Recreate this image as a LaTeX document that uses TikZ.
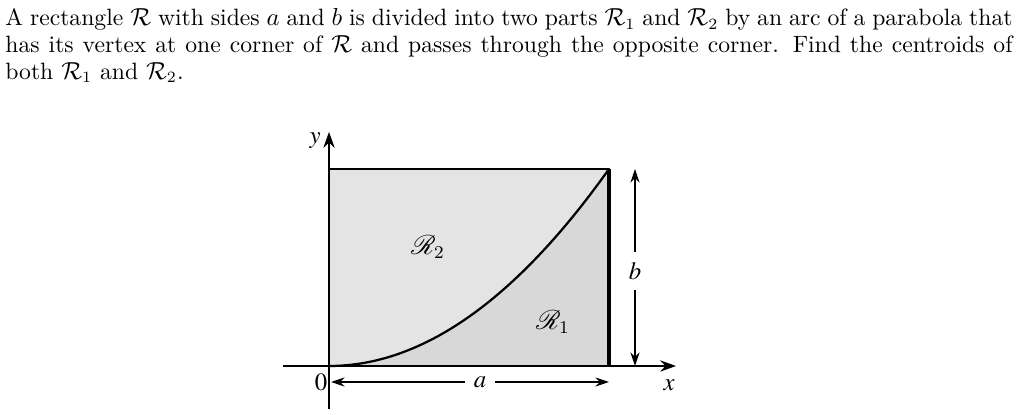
\documentclass[tikz,border=0pt]{standalone}
\usepackage{fontspec}
\usepackage{mathrsfs}
\newcommand{\timesit}{\usefont{OT1}{ptm}{m}{it}}
\newcommand{\timesrm}{\usefont{OT1}{ptm}{m}{n}}
\usetikzlibrary{arrows.meta}
\definecolor{regtwo}{HTML}{E4E4E4}
\definecolor{regone}{HTML}{D8D8D8}
\tikzset{
  px/.style={x=0.44444pt,y=-0.44444pt},
  axis/.style={line width=1pt,-{Stealth[length=7pt,width=5pt]}},
  dim/.style={line width=0.9pt,-{Stealth[length=6pt,width=4pt]}},
  lab/.style={font=\fontsize{11pt}{13pt}\timesit,inner sep=1pt},
  numlab/.style={font=\fontsize{11pt}{13pt}\timesrm,inner sep=1pt},
  reglab/.style={font=\fontsize{11.5pt}{13pt}\selectfont,inner sep=1pt},
}
\begin{document}
\begin{tikzpicture}[px]
\useasboundingbox (0,0) rectangle (1024,415);
% paragraph
\node[anchor=north west,inner sep=0pt,text width=447.6pt,align=justify,font=\fontsize{10.5pt}{11.9pt}\selectfont] (txt) at (5,8)
{A rectangle $\mathcal{R}$ with sides $a$ and $b$ is divided into two parts $\mathcal{R}_1$ and $\mathcal{R}_2$ by an arc of a parabola that\linebreak
has its vertex at one corner of $\mathcal{R}$ and passes through the opposite corner. Find the centroids of\linebreak
both $\mathcal{R}_1$ and $\mathcal{R}_2$.};
% key points
\coordinate (O) at (329,366);
\coordinate (TL) at (329,169);
\coordinate (TR) at (609,169);
\coordinate (BR) at (609,366);
% fills
\fill[regtwo] (O) -- (TL) -- (TR) .. controls (515.7,300.3) and (422.3,366) .. (O) -- cycle;
\fill[regone] (O) .. controls (422.3,366) and (515.7,300.3) .. (TR) -- (BR) -- cycle;
% rectangle
\draw[line width=1pt] (TL) -- (TR);
\draw[line width=1.5pt] (TR) -- (BR);
\draw[line width=1pt,line cap=round] (O) .. controls (422.3,366) and (515.7,300.3) .. (TR);
% axes
\coordinate (xs) at (283,366);
\coordinate (xe) at (676,366);
\coordinate (ys) at (329,409);
\coordinate (ye) at (329,132);
\draw[axis] (xs) -- (xe);
\draw[axis] (ys) -- (ye);
% dimension a
\node[lab] (la) at (480,382) {a};
\coordinate (a1) at (331,382);
\coordinate (a2) at (609,382);
\draw[dim] (la.west) ++(-6,0) -- (a1);
\draw[dim] (la.east) ++(6,0) -- (a2);
% dimension b
\node[lab] (lb) at (635,271) {b};
\coordinate (b1) at (635,169);
\coordinate (b2) at (635,366);
\draw[dim] (lb.north) ++(0,-8) -- (b1);
\draw[dim] (lb.south) ++(0,8) -- (b2);
% axis labels
\node[numlab] (l0) at (321,382) {0};
\node[lab] (lx) at (669,385) {x};
\node[lab] (ly) at (315,141) {y};
% region labels
\node[reglab] (r2) at (428,247) {$\mathscr{R}_2$};
\node[reglab] (r1) at (553,322) {$\mathscr{R}_1$};
\end{tikzpicture}
\end{document}
